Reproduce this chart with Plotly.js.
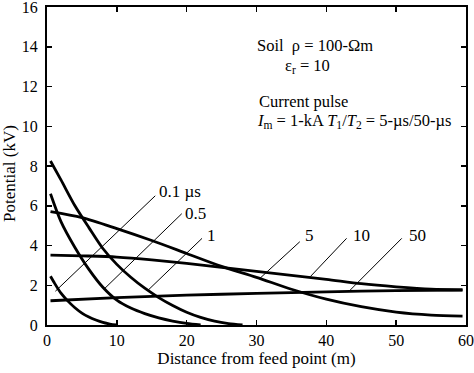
<!DOCTYPE html>
<html>
<head>
<meta charset="utf-8">
<script src="https://cdn.plot.ly/plotly-3.0.1.min.js"></script>
<style>html,body{margin:0;padding:0;background:#fff;}#chart{width:474px;height:373px;}</style>
</head>
<body>
<div id="chart"></div>
<script>
// Distance (m) and potential (kV) for each time instant
const x01 = [0.5, 1, 2, 3, 4, 5, 6, 7, 8, 9, 10];
const v01 = [2.45, 2.15, 1.6, 1.2, 0.87, 0.6, 0.4, 0.25, 0.13, 0.05, 0];
const x05 = [0.5, 2, 4, 6, 8, 10, 12, 14, 16, 18, 20, 22];
const v05 = [6.6, 5.2, 3.9, 2.8, 1.9, 1.25, 0.85, 0.57, 0.36, 0.2, 0.08, 0];
const x1 = [0.5, 2, 4, 6, 8, 10, 12, 14, 16, 18, 20, 22, 24, 26, 28];
const v1 = [8.25, 7.3, 6.0, 4.9, 3.85, 3.05, 2.4, 1.85, 1.38, 0.98, 0.64, 0.38, 0.19, 0.07, 0];
const x5 = [0.5, 5, 10, 15, 20, 25, 30, 35, 40, 45, 50, 55, 59.5];
const v5 = [5.7, 5.4, 4.85, 4.25, 3.6, 2.95, 2.4, 1.8, 1.3, 0.92, 0.65, 0.5, 0.45];
const x10 = [0.5, 5, 10, 15, 20, 25, 30, 35, 40, 45, 50, 55, 59.5];
const v10 = [3.52, 3.48, 3.42, 3.28, 3.1, 2.9, 2.7, 2.5, 2.3, 2.08, 1.92, 1.8, 1.77];
const x50 = [0.5, 10, 20, 30, 40, 50, 59.5];
const v50 = [1.22, 1.38, 1.5, 1.59, 1.67, 1.73, 1.76];

// Curve labels and leader lines
const labelText = ["0.1 µs", "0.5", "1", "5", "10", "50"];
const labelX = [15.7, 19.5, 22.6, 36.7, 43.6, 51.5];
const labelY = [6.7, 5.63, 4.48, 4.48, 4.48, 4.48];
const tipX = [1.2, 8.3, 14.5, 30.5, 37.7, 43.2];
const tipY = [1.7, 1.85, 1.76, 2.35, 2.43, 1.68];
const leadX = [15.5, 19.3, 22.2, 36.2, 42.9, 50.8];
const leadY = [6.5, 5.6, 4.36, 4.19, 4.36, 4.36];

// Axis ticks
const xTicks = [0, 10, 20, 30, 40, 50, 60];
const yTicks = [0, 2, 4, 6, 8, 10, 12, 14, 16];

const font = "Liberation Serif, Times New Roman, serif";
const curves = [[x01, v01], [x05, v05], [x1, v1], [x5, v5], [x10, v10], [x50, v50]];
const traces = curves.map(c => ({
  x: c[0], y: c[1], mode: 'lines', type: 'scatter',
  line: {color: '#000', width: 2.8, shape: 'spline', smoothing: 0.8},
  hoverinfo: 'skip', showlegend: false
}));
for (let i = 0; i < tipX.length; i++) {
  traces.push({x: [tipX[i], leadX[i]], y: [tipY[i], leadY[i]], mode: 'lines', type: 'scatter',
    line: {color: '#000', width: 1}, hoverinfo: 'skip', showlegend: false});
}

const annotations = labelText.map((t, i) => ({
  x: labelX[i], y: labelY[i], xref: 'x', yref: 'y', text: t, showarrow: false,
  xanchor: 'left', yanchor: 'middle', font: {family: font, size: 17, color: '#000'}
}));
const infoText = ["Soil\u00a0\u00a0ρ = 100-Ωm", "ε<sub>r</sub> = 10", "Current pulse",
  "<i>I</i><sub>m</sub> = 1-kA <i>T</i><sub>1</sub>/<i>T</i><sub>2</sub> = 5-µs/50-µs"];
const infoX = [29.8, 33.8, 30.1, 29.8];
const infoY = [14.04, 13.03, 11.27, 10.26];
infoText.forEach((t, i) => annotations.push({
  x: infoX[i], y: infoY[i], xref: 'x', yref: 'y', text: t, showarrow: false,
  xanchor: 'left', yanchor: 'middle', font: {family: font, size: 16.5, color: '#000'}
}));
annotations.push({
  x: 0, xref: 'paper', xanchor: 'center', xshift: -37, y: 7.6, yref: 'y', yanchor: 'middle',
  text: 'Potential (kV)', textangle: -90, showarrow: false,
  font: {family: font, size: 17, color: '#000'}
});

const axisCommon = {
  showline: true, linewidth: 2, linecolor: '#000', mirror: 'ticks',
  ticks: 'inside', ticklen: 5, tickwidth: 1.5, tickcolor: '#000',
  showgrid: false, zeroline: false, ticklabeloverflow: 'allow',
  tickfont: {family: font, size: 16, color: '#000'}
};
const layout = {
  width: 474, height: 373,
  margin: {l: 47, r: 8, t: 7, b: 48},
  paper_bgcolor: '#fff', plot_bgcolor: '#fff',
  xaxis: Object.assign({}, axisCommon, {range: [0, 60], tickvals: xTicks,
    title: {text: 'Distance from feed point (m)', font: {family: font, size: 17, color: '#000'}, standoff: 4}}),
  yaxis: Object.assign({}, axisCommon, {range: [0, 16], tickvals: yTicks, ticklabelstandoff: 4}),
  annotations: annotations
};
Plotly.newPlot('chart', traces, layout, {staticPlot: true, displayModeBar: false});
</script>
</body>
</html>
